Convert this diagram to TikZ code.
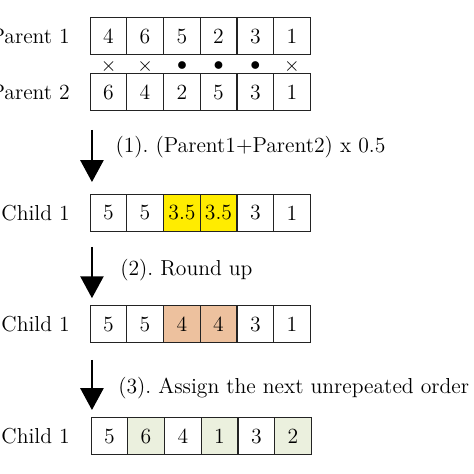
\documentclass[tikz,border=0pt]{standalone}
\usepackage{amsmath}
\usepackage{tikz}
\usetikzlibrary{arrows.meta}
\definecolor{hiyellow}{RGB}{255,236,0}
\definecolor{hipeach}{RGB}{237,193,158}
\definecolor{higreen}{RGB}{235,240,222}
\definecolor{boxline}{RGB}{35,35,35}
\frenchspacing

\begin{document}
\begin{tikzpicture}[font=\fontsize{13}{15}\selectfont,
cell/.style={draw=boxline,line width=0.6pt,minimum width=0.775cm,minimum height=0.78cm,inner sep=0pt},
rowlab/.style={anchor=east,inner sep=0pt},
steplab/.style={anchor=west,inner sep=0pt},
stepar/.style={line width=0.9pt,-{Triangle[length=4.6mm,width=4.9mm]}}]
\useasboundingbox (0,0) rectangle (10,10);
\clip (0,0) rectangle (10,10);
% parent 1
\node[rowlab] (lpa) at (1.48,9.23) {Parent 1};
\node[cell] (pa1) at (2.29,9.23) {4};
\node[cell] (pa2) at (3.06,9.23) {6};
\node[cell] (pa3) at (3.84,9.23) {5};
\node[cell] (pa4) at (4.61,9.23) {2};
\node[cell] (pa5) at (5.39,9.23) {3};
\node[cell] (pa6) at (6.16,9.23) {1};
% marks
\node (m1) at (2.29,8.60) {$\times$};
\node (m2) at (3.06,8.60) {$\times$};
\node (m3) at (3.84,8.60) {$\bullet$};
\node (m4) at (4.61,8.60) {$\bullet$};
\node (m5) at (5.39,8.60) {$\bullet$};
\node (m6) at (6.16,8.60) {$\times$};
% parent 2
\node[rowlab] (lpb) at (1.48,8.05) {Parent 2};
\node[cell] (pb1) at (2.29,8.05) {6};
\node[cell] (pb2) at (3.06,8.05) {4};
\node[cell] (pb3) at (3.84,8.05) {2};
\node[cell] (pb4) at (4.61,8.05) {5};
\node[cell] (pb5) at (5.39,8.05) {3};
\node[cell] (pb6) at (6.16,8.05) {1};
% step 1
\coordinate (s1) at (1.94,7.26);
\coordinate (e1) at (1.94,6.16);
\draw[stepar] (s1)--(e1);
\node[steplab] (t1) at (2.43,6.90) {(1). (Parent1+Parent2) x 0.5};
% child after step 1
\node[rowlab] (lca) at (1.48,5.51) {Child 1};
\node[cell] (ca1) at (2.29,5.51) {5};
\node[cell] (ca2) at (3.06,5.51) {5};
\node[cell,fill=hiyellow] (ca3) at (3.84,5.51) {3.5};
\node[cell,fill=hiyellow] (ca4) at (4.61,5.51) {3.5};
\node[cell] (ca5) at (5.39,5.51) {3};
\node[cell] (ca6) at (6.16,5.51) {1};
% step 2
\coordinate (s2) at (1.94,4.79);
\coordinate (e2) at (1.94,3.71);
\draw[stepar] (s2)--(e2);
\node[steplab] (t2) at (2.53,4.30) {(2). Round up};
% child after step 2
\node[rowlab] (lcb) at (1.48,3.16) {Child 1};
\node[cell] (cb1) at (2.29,3.16) {5};
\node[cell] (cb2) at (3.06,3.16) {5};
\node[cell,fill=hipeach] (cb3) at (3.84,3.16) {4};
\node[cell,fill=hipeach] (cb4) at (4.61,3.16) {4};
\node[cell] (cb5) at (5.39,3.16) {3};
\node[cell] (cb6) at (6.16,3.16) {1};
% step 3
\coordinate (s3) at (1.94,2.41);
\coordinate (e3) at (1.94,1.35);
\draw[stepar] (s3)--(e3);
\node[steplab] (t3) at (2.49,1.81) {(3). Assign the next unrepeated order};
% child after step 3
\node[rowlab] (lcc) at (1.48,0.80) {Child 1};
\node[cell] (cc1) at (2.31,0.80) {5};
\node[cell,fill=higreen] (cc2) at (3.08,0.80) {6};
\node[cell] (cc3) at (3.86,0.80) {4};
\node[cell,fill=higreen] (cc4) at (4.63,0.80) {1};
\node[cell] (cc5) at (5.41,0.80) {3};
\node[cell,fill=higreen] (cc6) at (6.18,0.80) {2};
\end{tikzpicture}
\end{document}
